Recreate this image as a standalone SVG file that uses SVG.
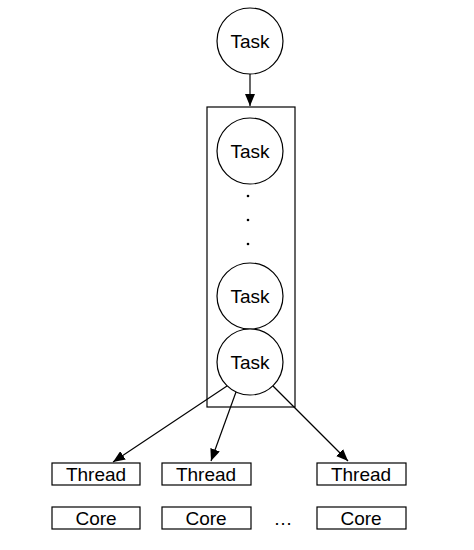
<svg xmlns="http://www.w3.org/2000/svg" width="474" height="550" viewBox="0 0 474 550">
<style>
.n{fill:#fff;stroke:#000;stroke-width:1.2}
.t{font-family:"Liberation Sans",Arial,sans-serif;font-size:19px;fill:#000;text-anchor:middle}
.c{stroke:#000;stroke-width:1.2;fill:none;marker-end:url(#ah)}
</style>
<defs>
<marker id="ah" viewBox="0 0 12 10" refX="12" refY="5" markerWidth="12" markerHeight="10" markerUnits="userSpaceOnUse" orient="auto">
<path d="M0,0 L12,5 L0,10 z" fill="#000"/>
</marker>
</defs>
<rect width="474" height="550" fill="#fff"/>
<g id="pool"><rect class="n" x="207" y="107" width="88" height="300" fill="none"/></g>
<g id="task0"><circle class="n" cx="250" cy="41" r="33"/><text class="t" x="250" y="48">Task</text></g>
<g id="task1"><circle class="n" cx="250" cy="151" r="33"/><text class="t" x="250" y="158">Task</text></g>
<g id="dots"><circle cx="248" cy="196" r="1.3"/><circle cx="248" cy="220" r="1.3"/><circle cx="248" cy="244" r="1.3"/></g>
<g id="task2"><circle class="n" cx="250" cy="296" r="33"/><text class="t" x="250" y="303">Task</text></g>
<g id="task3"><circle class="n" cx="250" cy="362" r="33"/><text class="t" x="250" y="369">Task</text></g>
<g id="thread1"><rect class="n" x="52" y="463" width="88" height="22"/><text class="t" x="96" y="481">Thread</text></g>
<g id="thread2"><rect class="n" x="162" y="463" width="89" height="22"/><text class="t" x="206" y="481">Thread</text></g>
<g id="thread3"><rect class="n" x="317" y="463" width="89" height="22"/><text class="t" x="361" y="481">Thread</text></g>
<g id="core1"><rect class="n" x="52" y="507" width="88" height="22"/><text class="t" x="96" y="525">Core</text></g>
<g id="core2"><rect class="n" x="162" y="507" width="89" height="22"/><text class="t" x="206" y="525">Core</text></g>
<g id="core3"><rect class="n" x="317" y="507" width="89" height="22"/><text class="t" x="361" y="525">Core</text></g>
<g id="ellipsis"><text class="t" x="283" y="525">…</text></g>
<g id="connectors">
<path class="c" d="M250,74 L250,106"/>
<path class="c" d="M227,386 L113,462"/>
<path class="c" d="M236,392 L211,461"/>
<path class="c" d="M273,386 L348,461"/>
</g>
</svg>
